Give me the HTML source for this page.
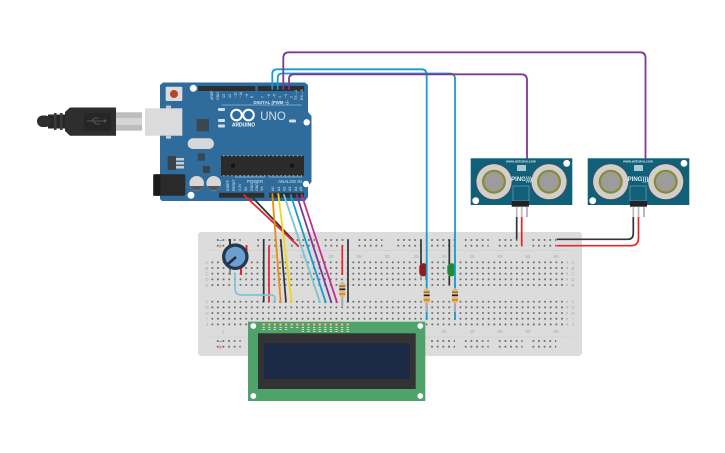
<!DOCTYPE html>
<html><head><meta charset="utf-8"><title>Circuit</title>
<style>html,body{margin:0;padding:0;background:#fff;width:725px;height:453px;overflow:hidden}svg{display:block}text{font-family:"Liberation Sans",sans-serif}</style></head>
<body>
<svg width="725" height="453" viewBox="0 0 725 453" xmlns="http://www.w3.org/2000/svg">
<defs>
<pattern id="h" x="211.4" y="261.4" width="5.64" height="5.68" patternUnits="userSpaceOnUse"><rect width="1.8" height="1.8" rx=".5" fill="#666"/></pattern>
<pattern id="h2" x="211.4" y="300.8" width="5.64" height="5.68" patternUnits="userSpaceOnUse"><rect width="1.8" height="1.8" rx=".5" fill="#666"/></pattern>
<pattern id="t" x="216.8" y="239.1" width="5.64" height="5.7" patternUnits="userSpaceOnUse"><rect width="1.8" height="1.8" rx=".5" fill="#666"/></pattern>
<pattern id="t2" x="216.8" y="340.1" width="5.64" height="5.7" patternUnits="userSpaceOnUse"><rect width="1.8" height="1.8" rx=".5" fill="#666"/></pattern>
<g id="res"><rect x="-1" y="-8" width="2" height="24" fill="#aaa"/><rect x="-3" y="-7" width="6" height="14" rx="2" fill="#d9bd83"/><rect x="-3" y="-4.5" width="6" height="1.3" fill="#9a5b2a"/><rect x="-3" y="-1.5" width="6" height="1.6" fill="#222"/><rect x="-3" y="3" width="6" height="2" fill="#e8861a"/></g>
<g id="trans"><circle r="18.5" fill="#4a4a4a"/><circle r="17.6" fill="#cfcfcf"/><circle r="12" fill="#8b8b2b"/><circle r="9.8" fill="#9c9c9c"/></g>
<g id="rail"><rect x="216.7" y="239" width="24" height="9" fill="url(#t)"/><rect x="216.7" y="340" width="24" height="9" fill="url(#t2)"/></g>
</defs>

<!-- USB cable -->
<rect x="116" y="112.3" width="26" height="18.4" fill="#bdbdbd"/><rect x="116" y="118" width="26" height="7" fill="#d5d5d5"/>
<path d="M70 107.5H116V135.7H70L65 131V112Z" fill="#2e2e2e"/>
<rect x="84" y="113" width="27" height="18" fill="#262626"/>
<path d="M87 121H104M91 121L95 118H99M93 121L96 124H100" stroke="#555" stroke-width="1" fill="none"/><circle cx="105" cy="121" r="1.5" fill="#555"/>
<rect x="48" y="114.5" width="17" height="14" fill="#262626"/>
<rect x="54" y="113" width="2.5" height="17" fill="#3a3a3a"/><rect x="60" y="113" width="2.5" height="17" fill="#3a3a3a"/>
<rect x="37" y="115.5" width="14" height="11.5" rx="5.7" fill="#2e2e2e"/>

<!-- Breadboard -->
<rect x="198" y="232" width="384" height="124" rx="3" fill="#dcdcdc"/>
<path d="M207 250.5H573M207 337H573" stroke="#cfcfcf" stroke-width=".7"/>
<rect x="211.3" y="261.3" width="356" height="28" fill="url(#h)"/>
<rect x="211.3" y="300.7" width="356" height="28" fill="url(#h2)"/>
<use href="#rail"/>
<use href="#rail" x="40.4"/><use href="#rail" x="74.2"/><use href="#rail" x="107.9"/><use href="#rail" x="141.7"/>
<use href="#rail" x="180.5"/><use href="#rail" x="214.3"/><use href="#rail" x="248"/><use href="#rail" x="282"/><use href="#rail" x="315.6"/>
<g font-size="4.5" fill="#a8a8a8" text-anchor="middle">
<text x="223" y="258">1</text><text x="274" y="258">10</text><text x="302" y="258">15</text><text x="331" y="258">20</text><text x="359" y="258">25</text><text x="387" y="258">30</text><text x="416" y="258">35</text><text x="444" y="258">40</text><text x="472" y="258">45</text><text x="500" y="258">50</text><text x="528" y="258">55</text><text x="556" y="258">60</text>
<text x="223" y="333">1</text><text x="274" y="333">10</text><text x="302" y="333">15</text><text x="331" y="333">20</text><text x="359" y="333">25</text><text x="387" y="333">30</text><text x="416" y="333">35</text><text x="444" y="333">40</text><text x="472" y="333">45</text><text x="500" y="333">50</text><text x="528" y="333">55</text><text x="556" y="333">60</text>
<text x="207" y="264">A</text><text x="207" y="270">B</text><text x="207" y="275.5">C</text><text x="207" y="281">D</text><text x="207" y="287">E</text>
<text x="207" y="303.5">F</text><text x="207" y="309">G</text><text x="207" y="315">H</text><text x="207" y="320.5">I</text><text x="207" y="326">J</text>
<text x="573" y="264">A</text><text x="573" y="270">B</text><text x="573" y="275.5">C</text><text x="573" y="281">D</text><text x="573" y="287">E</text>
<text x="573" y="303.5">F</text><text x="573" y="309">G</text><text x="573" y="315">H</text><text x="573" y="320.5">I</text><text x="573" y="326">J</text>
</g>
<path d="M218 240.5H222" stroke="#7fa8c8" stroke-width="1"/><path d="M218 246H222M220 244V248" stroke="#e88" stroke-width="1"/>
<path d="M218 341.5H222" stroke="#7fa8c8" stroke-width="1"/><path d="M218 347H222M220 345V349" stroke="#e88" stroke-width="1"/>

<!-- Wires on breadboard -->
<g fill="none" stroke-width="1.7">
<path d="M263.7 239V302.3" stroke="#333"/>
<path d="M269 245.7V302.3" stroke="#e8242a"/>
<path d="M280.7 239.3L286 302.3" stroke="#333"/>
<path d="M342.3 245V275" stroke="#e8242a"/>
<path d="M348 239.3V302.3" stroke="#333"/>
<path d="M235 273V288Q235 295 242 295H271Q275 295 275 299V302.3" stroke="#7ac5d3"/>
<path d="M421 239.3V264" stroke="#333"/><path d="M449.3 239.3V264" stroke="#333"/>
<path d="M449.3 276V285" stroke="#333"/><path d="M421 276V280" stroke="#999"/>
<path d="M516.7 217V239.3" stroke="#333"/><path d="M521.7 217V245.7" stroke="#e8242a"/>
<path d="M556.7 239.3H628Q633.3 239.3 633.3 233V217" stroke="#333"/>
<path d="M556.7 245.7H631Q638.5 245.7 638.5 238V217" stroke="#e8242a"/>
</g>

<use href="#res" x="342.3" y="290"/>

<!-- Pot -->
<rect x="229" y="239" width="2" height="10" fill="#333"/><rect x="229" y="265" width="2" height="10" fill="#888"/>
<rect x="240" y="265" width="2" height="10" fill="#e8242a"/><rect x="245.5" y="245" width="2" height="10" fill="#e8242a"/>
<circle cx="235.3" cy="256.7" r="13.3" fill="#25394d"/>
<circle cx="235.3" cy="256.7" r="10" fill="#6b9fd2"/>
<path d="M228 264L236 257" stroke="#1e2c3b" stroke-width="2.5"/>

<!-- Arduino -->
<path d="M163 82.5H305L308 85V112L311.5 116V182L308 186V197L305 201H162L160 199V85Z" fill="#2f6c9c"/>
<rect x="198.3" y="86" width="57" height="5" fill="#2b2f33"/>
<rect x="257.7" y="86" width="46.5" height="5" fill="#2b2f33"/>
<rect x="219" y="192.7" width="45.3" height="5" fill="#2b2f33"/>
<rect x="269.3" y="192.7" width="34.7" height="5" fill="#2b2f33"/>
<rect x="165.7" y="86.7" width="16.6" height="14.3" rx="1" fill="#d9dde0"/>
<circle cx="174" cy="94" r="4" fill="#b8432b"/>
<g fill="#fff"><circle cx="193.3" cy="88.3" r="3.5"/><circle cx="306.7" cy="122.3" r="3.2"/><circle cx="306" cy="184" r="3.2"/><circle cx="191" cy="195.3" r="3.5"/></g>
<rect x="145" y="108.3" width="37.3" height="27.4" fill="#dbdbdb"/>
<rect x="166" y="105.5" width="5" height="3" fill="#c8c8c8"/><rect x="166" y="135.7" width="5" height="3" fill="#c8c8c8"/>
<rect x="196.7" y="119" width="12.3" height="12.3" fill="#3a4650"/>
<rect x="187.7" y="138.3" width="26.3" height="10.7" rx="5.3" fill="#d5d9dc"/>
<rect x="197.7" y="153.3" width="7.3" height="7.3" fill="#3a4650"/>
<rect x="167.7" y="156" width="8.5" height="14" fill="#38424a"/>
<rect x="176" y="158" width="8" height="2.5" fill="#ccc"/><rect x="176" y="162" width="8" height="2.5" fill="#ccc"/><rect x="176" y="166" width="8" height="2.5" fill="#ccc"/>
<rect x="203" y="166" width="7" height="7" fill="#38424a"/>
<rect x="153.3" y="174.3" width="32" height="21.5" rx="2" fill="#2a2a2a"/>
<rect x="153.3" y="174.3" width="7" height="21.5" fill="#1b1b1b"/>
<g><circle cx="196.7" cy="183.3" r="7.3" fill="#d8d8d8"/><path d="M190 186A7.3 7.3 0 0 0 203.4 186Z" fill="#555"/>
<circle cx="213.7" cy="183.3" r="7.3" fill="#d8d8d8"/><path d="M207 186A7.3 7.3 0 0 0 220.4 186Z" fill="#555"/></g>
<rect x="221" y="155.7" width="83" height="20" fill="#2b2b2b"/>
<circle cx="233" cy="165.7" r="2" fill="#111"/><circle cx="292" cy="165.7" r="2" fill="#111"/>
<path d="M223 155.7H302M223 175.7H302" stroke="#bbb" stroke-width="1" stroke-dasharray="1.5 2.6"/>
<path d="M221.7 105H301.7M235 177H265M269 177H302" stroke="#cfe0ec" stroke-width=".6"/>
<circle cx="236.5" cy="115" r="5.3" fill="none" stroke="#fff" stroke-width="2"/><circle cx="248.5" cy="115" r="5.3" fill="none" stroke="#fff" stroke-width="2"/>
<text x="243.5" y="126.5" font-size="5" font-weight="bold" fill="#fff" text-anchor="middle">ARDUINO</text>
<text x="273" y="120" font-size="11.5" fill="#cfe0ec" text-anchor="middle">UNO</text>
<text x="271" y="104" font-size="4.3" font-weight="bold" fill="#dbe7f0" text-anchor="middle">DIGITAL (PWM ~)</text>
<text x="255" y="182.8" font-size="4.3" fill="#dbe7f0" text-anchor="middle">POWER</text>
<text x="290" y="182.8" font-size="4.3" fill="#dbe7f0" text-anchor="middle">ANALOG IN</text>
<g font-size="3.6" fill="#dbe7f0">
<text transform="translate(213 100) rotate(-90)">AREF</text><text transform="translate(219 100) rotate(-90)">GND</text><text transform="translate(225 98) rotate(-90)">13</text><text transform="translate(231 98) rotate(-90)">12</text><text transform="translate(236.500 98) rotate(-90)">~11</text><text transform="translate(242 98) rotate(-90)">~10</text><text transform="translate(248 98) rotate(-90)">~9</text><text transform="translate(253 98) rotate(-90)">8</text>
<text transform="translate(264 98) rotate(-90)">7</text><text transform="translate(270 98) rotate(-90)">~6</text><text transform="translate(275.500 98) rotate(-90)">~5</text><text transform="translate(281 98) rotate(-90)">4</text><text transform="translate(287 98) rotate(-90)">~3</text><text transform="translate(292.500 98) rotate(-90)">2</text><text transform="translate(297 100) rotate(-90)">TX→1</text><text transform="translate(303 100) rotate(-90)">RX←0</text>
<text transform="translate(229 191) rotate(-90)">IOREF</text><text transform="translate(235 191) rotate(-90)">RESET</text><text transform="translate(241 191) rotate(-90)">3.3V</text><text transform="translate(247 191) rotate(-90)">5V</text><text transform="translate(253 191) rotate(-90)">GND</text><text transform="translate(258 191) rotate(-90)">GND</text><text transform="translate(263 191) rotate(-90)">Vin</text>
<text transform="translate(274 191) rotate(-90)">A0</text><text transform="translate(280 191) rotate(-90)">A1</text><text transform="translate(285.500 191) rotate(-90)">A2</text><text transform="translate(291 191) rotate(-90)">A3</text><text transform="translate(297 191) rotate(-90)">A4</text><text transform="translate(302 191) rotate(-90)">A5</text>
</g>
<g fill="#d4dde4"><rect x="218" y="108" width="7" height="3" rx="1"/><rect x="218" y="119" width="7" height="3" rx="1"/><rect x="218" y="124.5" width="7" height="3" rx="1"/><rect x="289" y="119.5" width="7" height="3" rx="1"/></g>

<!-- Sensors -->
<g><rect x="470.7" y="158.3" width="101.6" height="46.7" fill="#10607a"/>
<use href="#trans" x="494" y="181.7"/><use href="#trans" x="549" y="181.7"/>
<circle cx="566.7" cy="163.3" r="3.4" fill="#fff"/><circle cx="475.7" cy="200.7" r="3.4" fill="#fff"/>
<text x="521.5" y="181" font-size="6" font-weight="bold" fill="#dfeef2" text-anchor="middle">PING)))</text>
<text x="521" y="162.5" font-size="3.5" font-weight="bold" fill="#cfe3e8" text-anchor="middle">www.arduino.com</text>
<rect x="517" y="165" width="9" height="6" fill="#a9c9d1"/>
<rect x="513" y="186" width="16" height="15" fill="none" stroke="#8fb6c0" stroke-width=".5"/>
<rect x="511.7" y="201" width="17.3" height="5.7" fill="#222"/>
<path d="M516.7 206.7V217" stroke="#bbb" stroke-width="1.7"/><path d="M521.7 206.7V217" stroke="#bbb" stroke-width="1.7"/><path d="M527 206.7V217" stroke="#b9a3c9" stroke-width="1.7"/></g>
<g><rect x="587.7" y="158.3" width="101.6" height="46.7" fill="#10607a"/>
<use href="#trans" x="610.7" y="181.7"/><use href="#trans" x="665.7" y="181.7"/>
<circle cx="684" cy="163.3" r="3.4" fill="#fff"/><circle cx="592.7" cy="200.7" r="3.4" fill="#fff"/>
<text x="638" y="181" font-size="6" font-weight="bold" fill="#dfeef2" text-anchor="middle">PING)))</text>
<text x="638" y="162.5" font-size="3.5" font-weight="bold" fill="#cfe3e8" text-anchor="middle">www.arduino.com</text>
<rect x="634" y="165" width="9" height="6" fill="#a9c9d1"/>
<rect x="630" y="186" width="16" height="15" fill="none" stroke="#8fb6c0" stroke-width=".5"/>
<rect x="630" y="201" width="17" height="5.7" fill="#222"/>
<path d="M633.3 206.7V217" stroke="#bbb" stroke-width="1.7"/><path d="M638.5 206.7V217" stroke="#bbb" stroke-width="1.7"/><path d="M644 206.7V217" stroke="#b9a3c9" stroke-width="1.7"/></g>

<!-- LCD -->
<rect x="248" y="321.7" width="177.3" height="79.3" fill="#4fa36a"/>
<rect x="258" y="333.3" width="157.7" height="55.7" fill="#333"/>
<rect x="263.7" y="343.3" width="146.3" height="35.7" fill="#1b2a47"/>
<g fill="#fff"><circle cx="253.3" cy="326" r="2.9"/><circle cx="420.3" cy="326" r="2.9"/><circle cx="253.3" cy="396" r="2.9"/><circle cx="420.3" cy="396" r="2.9"/></g>
<g fill="#d8c48a" stroke="#6f7d50" stroke-width=".5"><circle cx="263.7" cy="324.500" r="1.6"/><circle cx="269.3" cy="324.500" r="1.6"/><circle cx="274.9" cy="324.500" r="1.6"/><circle cx="280.5" cy="324.500" r="1.6"/><circle cx="286.1" cy="324.500" r="1.6"/><circle cx="291.7" cy="324.500" r="1.6"/><circle cx="297.3" cy="324.500" r="1.6"/><circle cx="302.9" cy="324.500" r="1.6"/><circle cx="308.5" cy="324.500" r="1.6"/><circle cx="314.1" cy="324.500" r="1.6"/><circle cx="319.7" cy="324.500" r="1.6"/><circle cx="325.3" cy="324.500" r="1.6"/><circle cx="330.9" cy="324.500" r="1.6"/><circle cx="336.5" cy="324.500" r="1.6"/><circle cx="342.1" cy="324.500" r="1.6"/><circle cx="347.7" cy="324.500" r="1.6"/></g>
<g stroke="#cfe3d3" stroke-width="2.2" stroke-dasharray="1 1" fill="none"><path d="M263.7 327V331M269.3 327V331M274.9 327V330M280.5 327V330M286.1 327V330M291.7 327V329M297.3 327V329M302.9 327V332M308.5 327V332M314.1 327V332M319.7 327V332M325.3 327V332M330.9 327V332M336.5 327V332M342.1 327V332M347.7 327V332"/></g>

<!-- LEDs -->
<rect x="419.3" y="263.3" width="8" height="13" rx="3.5" fill="#8a1d1f"/>
<rect x="447.3" y="263.3" width="8" height="13" rx="3.5" fill="#1f8a35"/>
<path d="M425.7 276V280" stroke="#999" stroke-width="1.5"/>

<!-- Arduino-to-board and signal wires -->
<g fill="none" stroke-width="1.8" stroke-linecap="round">
<path d="M252 197L293 240" stroke="#333"/>
<path d="M244 195L298.3 246" stroke="#e8242a"/>
<path d="M272.3 194L280.7 302.3" stroke="#ef8a13"/>
<path d="M278.3 194L291.7 302.3" stroke="#f7d417"/>
<path d="M284 195L320 302.3" stroke="#7ac5d3"/>
<path d="M290.7 195L325.7 302.3" stroke="#179bd0"/>
<path d="M296.7 195L331.3 302.3" stroke="#7a3a96"/>
<path d="M301.7 195L337 302.3" stroke="#c6308c"/>
<path d="M272.3 89V74Q272.3 69.3 277 69.3H421.500Q426.7 69.3 426.7 75V319.3" stroke="#179bd0"/>
<path d="M277.7 89V78Q277.7 73.5 282 73.5H450Q455 73.5 455 79V319.3" stroke="#179bd0"/>
<path d="M283.3 89V58Q283.3 52.3 289 52.3H640Q645.5 52.3 645.5 58V158" stroke="#7a3a96"/>
<path d="M289 89V79Q289 74.3 294 74.3H521Q527 74.3 527 80V158" stroke="#7a3a96"/>
</g>
<!-- Resistors over signal wires -->
<use href="#res" x="426.7" y="296"/><use href="#res" x="455" y="296"/>
</svg>
</body></html>
